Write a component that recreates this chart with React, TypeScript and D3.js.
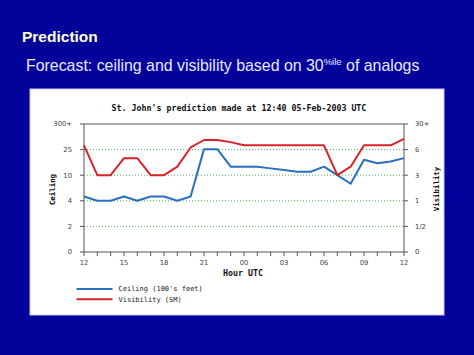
import React from "react";
import * as d3 from "d3";

const hours = d3.range(0, 25); // hours since 12 UTC
const hourLabels = ["12", "15", "18", "21", "00", "03", "06", "09", "12"];
const ceilingTicks = [0, 2, 4, 10, 25, 300];
const ceilingTickLabels = ["0", "2", "4", "10", "25", "300+"];
const visTicks = [0, 0.5, 1, 3, 6, 30];
const visTickLabels = ["0", "1/2", "1", "3", "6", "30+"];
const ceiling = [5, 4, 4, 5, 4, 5, 5, 4, 5, 30, 30, 15, 15, 15, 14, 13, 12, 12, 15, 10, 8, 19, 17, 18, 20];
const visibility = [10, 3, 3, 5, 5, 3, 3, 4, 8, 15, 15, 13, 10, 10, 10, 10, 10, 10, 10, 3, 4, 10, 10, 10, 16];

export default function App() {
  const W = 474, H = 355;
  const left = 84, right = 404, top = 124, bottom = 252;
  const x = d3.scaleLinear().domain([0, 24]).range([left, right]);
  const levels = ceilingTicks.map((_, i) => bottom - (i * (bottom - top)) / (ceilingTicks.length - 1));
  const yC = d3.scaleLinear().domain(ceilingTicks).range(levels);
  const yV = d3.scaleLinear().domain(visTicks).range(levels);
  const lineC = d3.line<number>().x((_, i) => x(hours[i])).y((d) => yC(d));
  const lineV = d3.line<number>().x((_, i) => x(hours[i])).y((d) => yV(d));
  const mono = "'DejaVu Sans Mono', monospace";
  const sans = "'DejaVu Sans', sans-serif";
  const axisColor = "#555";
  const tickText = "#444";
  return (
    <svg width={W} height={H} style={{ position: "absolute", left: 0, top: 0 }}>
      <rect x={0} y={0} width={W} height={H} fill="#03039b" />
      <text x={22} y={42} fontFamily="'Liberation Sans', Arial, sans-serif" fontWeight="bold" fontSize={15.5} fill="#ffffd0">
        Prediction
      </text>
      <text x={26} y={71} fontFamily="'Liberation Sans', Arial, sans-serif" fontSize={15.9} fill="#e8e8ff">
        Forecast: ceiling and visibility based on 30
        <tspan fontSize={9.5} dy={-6.5}>%ile</tspan>
        <tspan dy={6.5}> of analogs</tspan>
      </text>
      <rect x={30} y={89} width={414} height={226} fill="#ffffff" stroke="#c8c8ff" strokeWidth={1} />
      <text x={239} y={111} textAnchor="middle" fontFamily={mono} fontWeight="bold" fontSize={8.3} fill="#111">
        St. John's prediction made at 12:40 05-Feb-2003 UTC
      </text>
      {/* gridlines */}
      {ceilingTicks.slice(1, -1).map((t) => (
        <line key={"g" + t} x1={left} x2={right} y1={yC(t)} y2={yC(t)} stroke="#5cb85c" strokeWidth={1} strokeDasharray="1,2" />
      ))}
      {/* frame */}
      <rect x={left} y={top} width={right - left} height={bottom - top} fill="none" stroke={axisColor} strokeWidth={1} />
      {/* left ticks */}
      {ceilingTicks.map((t, i) => (
        <g key={"lc" + t}>
          <line x1={left - 4} x2={left} y1={yC(t)} y2={yC(t)} stroke={axisColor} />
          <text x={72} y={yC(t)} dy="0.35em" textAnchor="end" fontFamily={sans} fontSize={6.8} fill={tickText}>
            {ceilingTickLabels[i]}
          </text>
        </g>
      ))}
      {/* right ticks */}
      {visTicks.map((t, i) => (
        <g key={"rv" + t}>
          <line x1={right} x2={right + 4} y1={yV(t)} y2={yV(t)} stroke={axisColor} />
          <text x={415} y={yV(t)} dy="0.35em" textAnchor="start" fontFamily={sans} fontSize={6.8} fill={tickText}>
            {visTickLabels[i]}
          </text>
        </g>
      ))}
      {/* bottom ticks */}
      {hours.map((h) => (
        <line key={"bt" + h} x1={x(h)} x2={x(h)} y1={bottom} y2={bottom + 4} stroke={axisColor} />
      ))}
      {hourLabels.map((l, i) => (
        <text key={"bl" + i} x={x(i * 3)} y={263} dy="0.35em" textAnchor="middle" fontFamily={sans} fontSize={6.8} fill={tickText}>
          {l}
        </text>
      ))}
      <text x={243} y={273} dy="0.35em" textAnchor="middle" fontFamily={mono} fontWeight="bold" fontSize={8.3} fill="#111">
        Hour UTC
      </text>
      <text transform="translate(52,189.5) rotate(-90)" dy="0.35em" textAnchor="middle" fontFamily={mono} fontWeight="bold" fontSize={7.4} fill="#111">
        Ceiling
      </text>
      <text transform="translate(436.5,189) rotate(-90)" dy="0.35em" textAnchor="middle" fontFamily={mono} fontWeight="bold" fontSize={7.4} fill="#111">
        Visibility
      </text>
      {/* series */}
      <path d={lineC(ceiling) || ""} fill="none" stroke="#2a6fc0" strokeWidth={2} strokeLinejoin="round" />
      <path d={lineV(visibility) || ""} fill="none" stroke="#d8232a" strokeWidth={2} strokeLinejoin="round" />
      {/* legend */}
      <line x1={76.5} x2={112.5} y1={289} y2={289} stroke="#2a6fc0" strokeWidth={2} />
      <line x1={76.5} x2={112.5} y1={299.3} y2={299.3} stroke="#d8232a" strokeWidth={2} />
      <text x={118.5} y={289} dy="0.35em" fontFamily={mono} fontSize={7} fill="#222">
        Ceiling (100's feet)
      </text>
      <text x={118.5} y={299.3} dy="0.35em" fontFamily={mono} fontSize={7} fill="#222">
        Visibility (SM)
      </text>
    </svg>
  );
}
